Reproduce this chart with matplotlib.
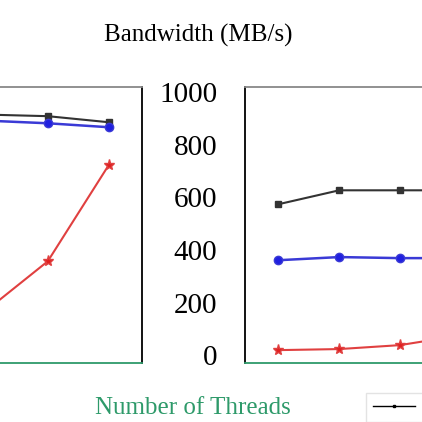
import matplotlib.pyplot as plt
from matplotlib.lines import Line2D

plt.rcParams['font.family'] = ['Liberation Serif', 'DejaVu Serif']

threads = [0, 1, 2, 3, 4]
# left panel (only the right part is visible)
left_black = [905, 912, 915, 909, 886]
left_blue = [880, 888, 892, 882, 867]
left_red = [60, 110, 172, 357, 722]
# right panel (only the left part is visible)
right_black = [574, 627, 627, 627, 627]
right_blue = [361, 373, 369, 369, 369]
right_red = [19, 23, 38, 75, 140]
yticks = [0, 200, 400, 600, 800, 1000]

fig = plt.figure(figsize=(4.22, 4.22), dpi=100)
W, H = 422.0, 422.0
ax1 = fig.add_axes([-168 / W, 59 / H, 310 / W, 276 / H])
ax2 = fig.add_axes([245 / W, 59 / H, 310 / W, 276 / H])

for ax, b, bl, r in [(ax1, left_black, left_blue, left_red),
                     (ax2, right_black, right_blue, right_red)]:
    ax.plot(threads, b, color="#333333", marker="s", ms=5, lw=1.5)
    ax.plot(threads, bl, color="#3a3ad6", marker="o", ms=6, lw=1.8, mfc="#2020e0")
    ax.plot(threads, r, color="#e04040", marker="*", ms=8, lw=1.5, mfc="#e02020")
    ax.set_xlim(-0.55, 4.55)
    ax.set_ylim(-30, 1020)
    ax.set_xticks([])
    ax.set_yticks(yticks)
    ax.tick_params(axis="y", length=0, labelsize=21, pad=20)
    ax.spines["top"].set_color("#888888")
    ax.spines["bottom"].set_color("#2e9a6a")
    ax.spines["left"].set_color("black")
    ax.spines["right"].set_color("black")
    for s in ax.spines.values():
        s.set_linewidth(1.3)

ax1.set_yticklabels([])

fig.text(198 / W, 1 - 35 / H, "Bandwidth (MB/s)", ha="center", va="center", fontsize=18)
fig.text(193 / W, 1 - 408 / H, "Number of Threads", ha="center", va="center",
         fontsize=18, color="#2e9a6a")

handle = Line2D([], [], color="black", marker="s", ms=2, lw=1)
fig.legend([handle], [" "], loc="lower left", bbox_to_anchor=(358 / W, -0.02),
           frameon=True, fontsize=12, handlelength=2.5, fancybox=False,
           edgecolor="#dddddd")

fig.savefig("out.png", dpi=100)
